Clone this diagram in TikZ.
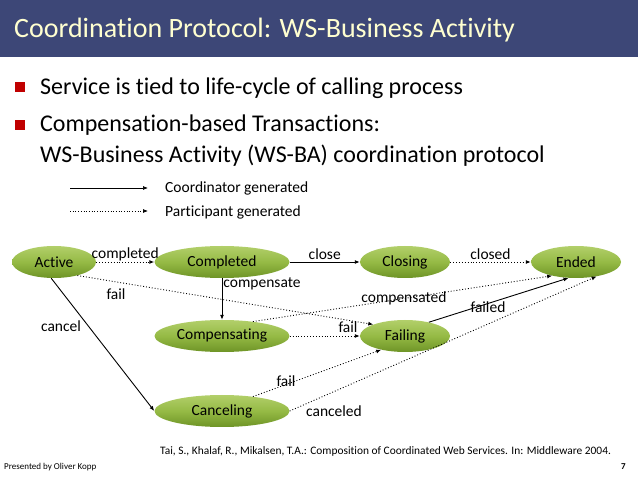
\documentclass[tikz,border=0pt]{standalone}
\usepackage{fontspec}
\setmainfont{Carlito}[Ligatures={NoCommon,NoContextual}]
\usetikzlibrary{shapes.geometric,arrows.meta}
\definecolor{hdr}{HTML}{3D4777}
\definecolor{ttl}{HTML}{FFFFD0}
\definecolor{bul}{HTML}{C00000}
\definecolor{gtop}{HTML}{B2CF6A}
\definecolor{gmid}{HTML}{95BA45}
\definecolor{gbot}{HTML}{6E9426}
\tikzset{
 st/.style={ellipse,minimum height=32pt,inner sep=0pt,top color=gtop,bottom color=gbot,middle color=gmid,draw=none,font=\fontsize{15.5}{15.5}\selectfont},
 co/.style={-{Latex[length=5pt,width=4pt]},line width=0.9pt},
 pa/.style={-{Latex[length=5pt,width=4pt]},dotted,line width=0.9pt},
 lb/.style={font=\fontsize{15.5}{15.5}\selectfont,inner sep=0pt},
 bl/.style={font=\fontsize{24}{24}\selectfont,anchor=west,inner sep=0pt}
}
\begin{document}
\begin{tikzpicture}[x=1pt,y=-1pt]
\useasboundingbox (0,0) rectangle (638,478);
\fill[hdr] (0,0) rectangle (638,57);
\node[anchor=west,text=ttl,font=\fontsize{28}{28}\selectfont,inner sep=0pt] (title) at (14,30) {Coordination Protocol: WS-Business Activity};
\fill[bul] (15,82) rectangle (25,92);
\fill[bul] (15,120) rectangle (25,130);
\node[bl] (b1) at (40,88) {Service is tied to life-cycle of calling process};
\node[bl] (b2) at (40,125) {Compensation-based Transactions:};
\node[bl] (b3) at (40,156) {WS-Business Activity (WS-BA) coordination protocol};
\coordinate (l1a) at (70,188); \coordinate (l1b) at (148,188);
\coordinate (l2a) at (70,211); \coordinate (l2b) at (148,211);
\draw[co,line width=0.7pt] (l1a) -- (l1b);
\draw[pa,line width=0.7pt] (l2a) -- (l2b);
\node[anchor=west,font=\fontsize{15.5}{15.5}\selectfont,inner sep=0pt] (lg1) at (165,188) {Coordinator generated};
\node[anchor=west,font=\fontsize{15.5}{15.5}\selectfont,inner sep=0pt] (lg2) at (165,212) {Participant generated};

\node[st,minimum width=84pt] (act) at (54,262) {Active};
\node[st,minimum width=135pt] (cmp) at (222,262) {Completed};
\node[st,minimum width=90pt] (clo) at (405,262) {Closing};
\node[st,minimum width=90pt] (end) at (576,262) {Ended};
\node[st,minimum width=135pt] (cps) at (222,336) {Compensating};
\node[st,minimum width=90pt] (fai) at (405,336) {Failing};
\node[st,minimum width=135pt] (can) at (222,411) {Canceling};

\draw[pa] (act) -- node[lb,above=1pt]{completed} (cmp);
\draw[co] (cmp) -- node[lb,above=2pt]{close} (clo);
\draw[pa] (clo) -- node[lb,above=2pt]{closed} (end);
\draw[co] (cmp) -- (cps);
\node[lb] (lcs) at (262,284) {compensate};
\draw[pa] (act.-30) -- (fai.160);
\node[lb] (lf1) at (116,294) {fail};
\draw[pa] (cps.25) -- (end.-150);
\node[lb] (lcd) at (404,298) {compensated};
\draw[pa] (cps) -- (fai);
\node[lb] (lf2) at (348,327) {fail};
\draw[co] (fai.30) -- (end.-115);
\node[lb] (lfd) at (488,307) {failed};
\draw[co] (act.-100) -- (can.west);
\node[lb] (lcn) at (61,326) {cancel};
\draw[pa] (can.25) -- (fai.-150);
\node[lb] (lf3) at (286,381) {fail};
\draw[pa] (can.east) -- (end.-35);
\node[lb] (lcc) at (334,411) {canceled};

\node[anchor=west,font=\fontsize{11.4}{11.4}\selectfont,inner sep=0pt] (cite) at (160,451) {Tai, S., Khalaf, R., Mikalsen, T.A.: Composition of Coordinated Web Services. In: Middleware 2004.};
\node[anchor=west,font=\fontsize{9}{9}\selectfont,inner sep=0pt] (pres) at (4,467) {Presented by Oliver Kopp};
\node[anchor=east,font=\bfseries\fontsize{9}{9}\selectfont,inner sep=0pt] (pg) at (626,467) {7};
\end{tikzpicture}
\end{document}
